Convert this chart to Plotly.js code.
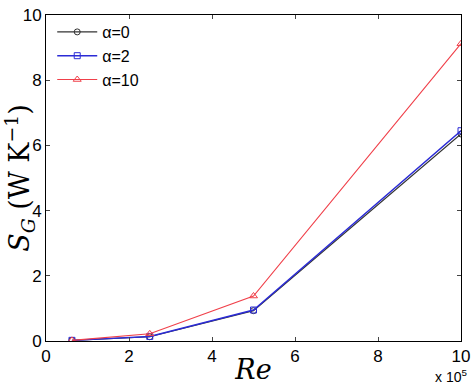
<!DOCTYPE html>
<html><head><meta charset="utf-8">
<script src="https://cdn.plot.ly/plotly-3.0.1.min.js"></script>
<style>html,body{margin:0;padding:0;background:#fff}</style>
</head><body>
<div id="chart" style="width:474px;height:385px"></div>
<script>
const re = [0.625, 2.5, 5, 10];
const sgAlpha0 = [0.02, 0.13, 0.93, 6.35];
const sgAlpha2 = [0.02, 0.14, 0.95, 6.45];
const sgAlpha10 = [0.02, 0.22, 1.38, 9.12];
const seriesNames = ['α=0', 'α=2', 'α=10'];
const xTicks = [0, 2, 4, 6, 8, 10];
const yTicks = [0, 2, 4, 6, 8, 10];

const traces = [
  {x: re, y: sgAlpha0, name: seriesNames[0], mode: 'lines+markers',
   line: {color: '#333333', width: 1.2}, marker: {symbol: 'circle-open', size: 6, color: '#333333', line: {width: 1}}},
  {x: re, y: sgAlpha2, name: seriesNames[1], mode: 'lines+markers',
   line: {color: '#2b2bd6', width: 1.4}, marker: {symbol: 'square-open', size: 6, color: '#2b2bd6', line: {width: 1}}},
  {x: re, y: sgAlpha10, name: seriesNames[2], mode: 'lines+markers',
   line: {color: '#f0404a', width: 1.1}, marker: {symbol: 'triangle-up-open', size: 7, color: '#f0404a', line: {width: 1}}}
];

const layout = {
  width: 474, height: 385,
  margin: {l: 46, r: 13, t: 15, b: 44},
  paper_bgcolor: '#fff', plot_bgcolor: '#fff',
  font: {family: 'Liberation Sans, Arial, sans-serif', color: '#000', size: 17},
  showlegend: true,
  legend: {x: 0.015, y: 1.0, xanchor: 'left', yanchor: 'top', bgcolor: 'rgba(0,0,0,0)',
           font: {size: 16, family: 'Liberation Sans, Arial, sans-serif'}, tracegroupgap: 2, itemwidth: 40},
  xaxis: {range: [0, 10], tickvals: xTicks, ticktext: xTicks.map(String), ticks: 'inside', ticklen: 4,
          showline: true, mirror: 'ticks', linecolor: '#000', linewidth: 1, showgrid: false, zeroline: false,
          tickfont: {size: 17},
          title: {text: '<i>Re</i>', font: {family: 'DejaVu Serif, serif', size: 27}, standoff: 2}},
  yaxis: {range: [0, 10], tickvals: yTicks, ticktext: yTicks.map(String), ticks: 'inside', ticklen: 4,
          showline: true, mirror: 'ticks', linecolor: '#000', linewidth: 1, showgrid: false, zeroline: false,
          tickfont: {size: 17},
          title: {text: '<i>S</i><sub><i>G</i></sub> (W K<sup>−1</sup>)', font: {family: 'DejaVu Serif, serif', size: 27}, standoff: 4}},
  annotations: [
    {text: 'x 10<sup>5</sup>', xref: 'paper', yref: 'paper', x: 1.02, y: -0.142, xanchor: 'right', yanchor: 'bottom',
     showarrow: false, font: {size: 14, family: 'Liberation Sans, Arial, sans-serif'}}
  ]
};
Plotly.newPlot('chart', traces, layout, {displayModeBar: false, staticPlot: true});
</script>
</body></html>
